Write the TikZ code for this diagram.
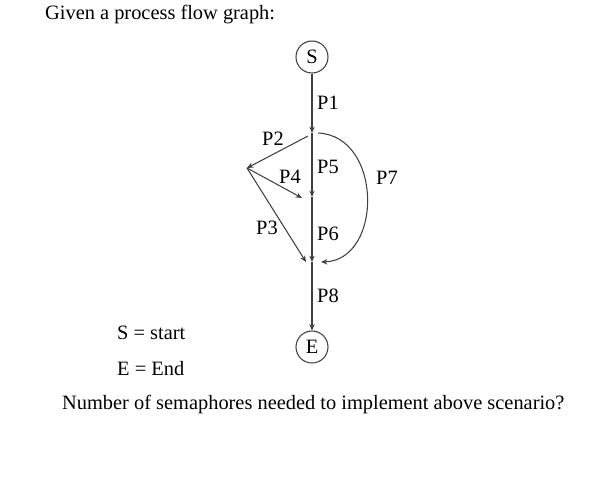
\documentclass[tikz,border=0pt]{standalone}
\usepackage{fontspec}
\setmainfont{Liberation Serif}
\usetikzlibrary{arrows.meta}
\tikzset{every picture/.style={line width=0.75pt}}
\tikzset{
	txt/.style={font=\fontsize{14.5}{17}\selectfont},
	state/.style={circle,draw=black!75,minimum size=0.8cm,inner sep=0pt,font=\fontsize{14.5}{17}\selectfont},
	flow/.style={->,draw=black!75}
}
\begin{document}
\begin{tikzpicture}[>={Stealth[length=4.5pt,width=3.8pt]},x=0.025cm,y=-0.025cm]
	\useasboundingbox (0,0) rectangle (600,494);
	%Tieu de
	\node[txt,anchor=west] (title) at (40,15) {Given a process flow graph:};
	%Trang thai S, E
	\node[state] (S) at (312,57) {S};
	\node[state] (E) at (312,347) {E};
	%Diem noi
	\coordinate (J1) at (312,133);
	\coordinate (J2) at (312,197);
	\coordinate (J3) at (312,262);
	\coordinate (L) at (247,168);
	\coordinate (P2start) at (308,136);
	\coordinate (P4end) at (302,198);
	\coordinate (P3end) at (306,262);
	\coordinate (P7start) at (318,133);
	\coordinate (P7end) at (321,262);
	%Mui ten P1, P5, P6, P8
	\draw[flow] (S)--(J1) node[txt,pos=0.5,right]{P1};
	\draw[flow] (J1)--(J2) node[txt,pos=0.53,right]{P5};
	\draw[flow] (J2)--(J3) node[txt,pos=0.57,right]{P6};
	\draw[flow] (J3)--(E) node[txt,pos=0.5,right]{P8};
	%Mui ten P2, P3, P4
	\draw[flow] (P2start)--(L);
	\node[txt] (lP2) at (273,139) {P2};
	\draw[flow] (L)--(P4end);
	\node[txt] (lP4) at (290,177) {P4};
	\draw[flow] (L)--(P3end);
	\node[txt] (lP3) at (267,228) {P3};
	%Mui ten P7
	\draw[flow] (P7start) .. controls (383,136) and (383,260) .. (P7end);
	\node[txt] (lP7) at (387,178) {P7};
	%Chu thich
	\node[txt,anchor=west] (sdef) at (112,333) {S = start};
	\node[txt,anchor=west] (edef) at (112,369) {E = End};
	\node[txt,anchor=west] (question) at (57,404) {Number of semaphores needed to implement above scenario?};
\end{tikzpicture}
\end{document}
